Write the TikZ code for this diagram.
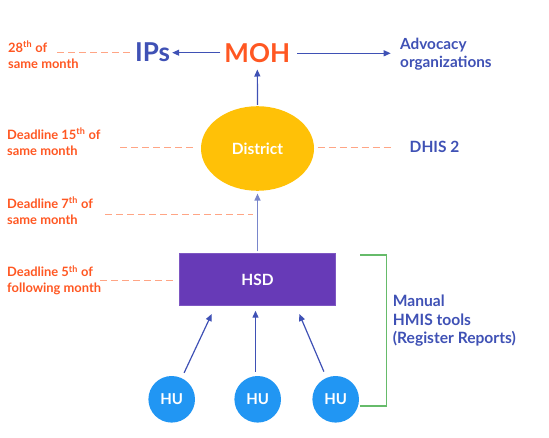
\documentclass[tikz,border=0pt]{standalone}
\usepackage{fontspec}
\setmainfont{Lato}
\usetikzlibrary{arrows.meta,shapes.geometric}
\definecolor{orng}{HTML}{FF5722}
\definecolor{indg}{HTML}{3F51B5}
\definecolor{indgl}{HTML}{7986CB}
\definecolor{amb}{HTML}{FFC107}
\definecolor{purp}{HTML}{673AB7}
\definecolor{purpl}{HTML}{7E57C2}
\definecolor{hublue}{HTML}{2196F3}
\definecolor{grn}{HTML}{66BB6A}
\definecolor{salm}{HTML}{FFA585}
\tikzset{
  arr/.style={draw=indg, line width=1.2pt, -{Triangle[length=7pt,width=6pt]}},
  lead/.style={draw=salm, line width=1.1pt, dash pattern=on 7pt off 4pt},
  lbl/.style={text=orng, font=\fontsize{12.9}{16.5}\selectfont\bfseries, align=left, anchor=west, inner sep=0pt},
  bluetxt/.style={text=indg, font=\fontsize{15.3}{18}\selectfont\bfseries, align=left, inner sep=0pt},
  hunode/.style={circle, fill=hublue, minimum size=46.6pt, inner sep=0pt, text=white, font=\fontsize{15}{16}\selectfont\bfseries},
}
\begin{document}
\begin{tikzpicture}[x=1pt,y=-1pt]
\useasboundingbox (0,0) rectangle (549,438);
% main nodes
\node[text=indg, font=\fontsize{26}{28}\selectfont\bfseries, inner sep=0pt] (ips) at (152.5,52.7) {IPs};
\node[text=orng, font=\fontsize{26}{28}\selectfont\bfseries, inner sep=0pt] (moh) at (257.3,52.7) {MOH};
\node[bluetxt, anchor=west] (adv) at (400,54) {Advocacy\\organizations};
\node[ellipse, fill=amb, minimum width=113pt, minimum height=84.6pt, inner sep=0pt, text=white, font=\fontsize{15.5}{17}\selectfont\bfseries] (dist) at (257.5,148.5) {District};
\node[text=indg, font=\fontsize{15.5}{17}\selectfont\bfseries, inner sep=0pt] (dhis) at (434.5,147.3) {DHIS 2};
\node[rectangle, fill=purp, draw=purpl, line width=0.6pt, minimum width=156.4pt, minimum height=52.4pt, inner sep=0pt, text=white, font=\fontsize{15.5}{17}\selectfont\bfseries] (hsd) at (257.5,279.5) {HSD};
\node[hunode] (hu1) at (171.7,399.3) {HU};
\node[hunode] (hu2) at (257.7,399.3) {HU};
\node[hunode] (hu3) at (335.7,399.3) {HU};
\node[text=indg, font=\fontsize{15.6}{18.5}\selectfont\bfseries, align=left, anchor=west, inner sep=0pt] (man) at (392.7,321) {Manual\\HMIS tools\\(Register Reports)};
% left labels
\node[lbl] (l1) at (8,55) {28\textsuperscript{th} of\\same month};
\node[lbl] (l2) at (7,142) {Deadline 15\textsuperscript{th} of\\same month};
\node[lbl] (l3) at (7,211) {Deadline 7\textsuperscript{th} of\\same month};
\node[lbl] (l4) at (7,280.3) {Deadline 5\textsuperscript{th} of\\following month};
% leader coordinates
\coordinate (d1a) at (57,52.7);   \coordinate (d1b) at (132,52.7);
\coordinate (d2a) at (120,147.5); \coordinate (d2b) at (196,147.5);
\coordinate (d3a) at (317.7,147.7); \coordinate (d3b) at (393.3,147.7);
\coordinate (d4a) at (105,214.3); \coordinate (d4b) at (253.3,214.3);
\coordinate (d5a) at (100,280.7); \coordinate (d5b) at (175.7,280.7);
\draw[lead] (d1a) -- (d1b);
\draw[lead] (d2a) -- (d2b);
\draw[lead] (d3a) -- (d3b);
\draw[lead] (d4a) -- (d4b);
\draw[lead] (d5a) -- (d5b);
% arrows
\draw[arr, shorten <=4pt, shorten >=2pt] (moh.west) -- (ips.east);
\coordinate (advtip) at (390.7,53.3);
\draw[arr, shorten <=7pt] (moh.east |- advtip) -- (advtip);
\draw[arr, shorten <=1pt, shorten >=7pt] (dist.north) -- (moh.south);
\draw[arr, draw=indgl, shorten <=1.6pt, shorten >=2.6pt] (hsd.north) -- (dist.south);
\coordinate (t1) at (211.7,314);
\coordinate (t2) at (255.5,310.7);
\coordinate (t3) at (299.3,314);
\draw[arr, shorten <=5.7pt] (hu1) -- (t1);
\draw[arr, shorten <=4pt] (hu2.north -| t2) -- (t2);
\draw[arr, shorten <=6.6pt] (hu3) -- (t3);
% green bracket
\coordinate (g1) at (360,255);
\coordinate (g2) at (386.3,255);
\coordinate (g3) at (386.3,406);
\coordinate (g4) at (360,406);
\draw[draw=grn, line width=1.2pt] (g1) -- (g2) -- (g3) -- (g4);
\end{tikzpicture}
\end{document}
